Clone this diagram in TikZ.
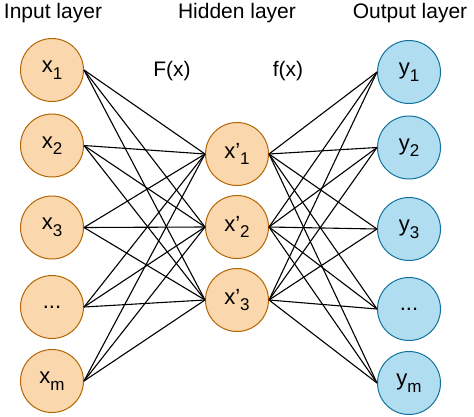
\documentclass[tikz,border=0pt]{standalone}
\usepackage{fontspec}
\setmainfont{Liberation Sans}
\definecolor{ofill}{HTML}{FAD7AC}
\definecolor{oline}{HTML}{B46504}
\definecolor{bfill}{HTML}{B1DDF0}
\definecolor{bline}{HTML}{10739E}
\newcommand{\mysub}[1]{\raisebox{-0.3em}{\fontsize{17}{17}\selectfont #1}}
\newcommand{\myprime}{{\char"27}}
\begin{document}
\begin{tikzpicture}[x=1pt,y=-1pt,
  neuron/.style={circle,minimum size=63pt,inner sep=0pt,line width=1pt,font=\fontsize{22}{24}\selectfont},
  inneuron/.style={neuron,draw=oline,fill=ofill},
  outneuron/.style={neuron,draw=bline,fill=bfill},
  title/.style={font=\fontsize{21}{24}\selectfont,inner sep=0pt},
  fn/.style={font=\fontsize{21}{24}\selectfont,inner sep=0pt},
  link/.style={line width=1.1pt,black}]
\useasboundingbox (0,0) rectangle (474,416);
\node[title] (t1) at (53,13) {Input layer};
\node[title] (t2) at (237,13) {Hidden layer};
\node[title] (t3) at (410,13) {Output layer};
\node[fn] (F) at (172,71) {F(x)};
\node[fn] (f) at (288,71) {f(x)};
\node[inneuron] (i1) at (52,70) {x\mysub{1}};
\node[inneuron] (i2) at (52,145.5) {x\mysub{2}};
\node[inneuron] (i3) at (52,227.5) {x\mysub{3}};
\node[inneuron] (i4) at (52,307) {...};
\node[inneuron] (i5) at (52,381) {x\mysub{m}};
\node[inneuron] (h1) at (237,154) {x\myprime\mysub{1}};
\node[inneuron] (h2) at (237,227) {x\myprime\mysub{2}};
\node[inneuron] (h3) at (237,300) {x\myprime\mysub{3}};
\node[outneuron] (o1) at (409,72) {y\mysub{1}};
\node[outneuron] (o2) at (409,147.5) {y\mysub{2}};
\node[outneuron] (o3) at (409,229) {y\mysub{3}};
\node[outneuron] (o4) at (409,309) {...};
\node[outneuron] (o5) at (409,383) {y\mysub{m}};
\foreach \i in {1,...,5}{
  \foreach \h in {1,2,3}{
    \draw[link] (i\i.east) -- (h\h.west);
    \draw[link] (h\h.east) -- (o\i.west);
  }
}
\end{tikzpicture}
\end{document}
